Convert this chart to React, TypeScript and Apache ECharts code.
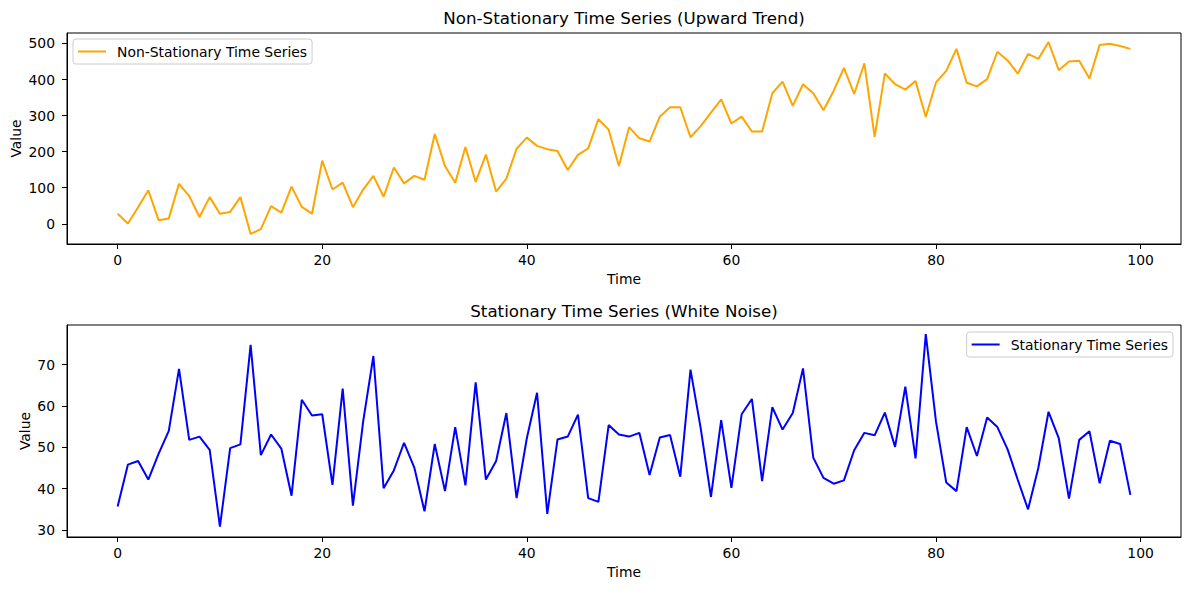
import React, { useEffect, useRef } from "react";
import * as echarts from "echarts";

const timeIndex: number[] = Array.from({ length: 100 }, (_, i) => i);

const trendValues: number[] = [
  28, 1, 46, 93, 10, 15, 111, 77, 19, 74,
  28, 33, 74, -28, -15, 49, 31, 103, 47, 28,
  175, 95, 114, 46, 95, 133, 75, 156, 112, 133,
  122, 249, 160, 114, 213, 116, 192, 89, 125, 208,
  239, 216, 207, 202, 149, 191, 209, 290, 261, 160,
  268, 237, 228, 297, 323, 323, 240, 271, 308, 345,
  278, 297, 256, 256, 362, 394, 327, 387, 362, 315,
  369, 432, 360, 445, 241, 417, 387, 372, 396, 296,
  392, 424, 485, 391, 381, 401, 477, 453, 416, 471,
  457, 504, 426, 450, 452, 403, 496, 499, 493, 485,
];

const noiseValues: number[] = [
  35.7, 45.8, 46.7, 42.2, 48.4, 54.0, 69.0, 51.8, 52.6, 49.4,
  30.8, 49.8, 50.7, 74.8, 48.1, 53.1, 49.7, 38.3, 61.5, 57.7,
  58.0, 40.9, 64.2, 35.9, 56.2, 72.1, 40.1, 44.4, 51.1, 45.1,
  34.5, 50.8, 39.4, 54.9, 40.8, 65.7, 42.2, 46.7, 58.3, 37.7,
  52.2, 63.2, 33.9, 51.9, 52.6, 57.9, 37.7, 36.8, 55.4, 53.1,
  52.6, 53.5, 43.3, 52.4, 53.0, 42.9, 68.8, 54.6, 38.0, 56.6,
  40.2, 58.0, 61.7, 41.8, 59.7, 54.3, 58.3, 69.1, 47.5, 42.6,
  41.2, 42.0, 49.3, 53.5, 52.9, 58.4, 50.1, 64.7, 47.3, 77.4,
  56.2, 41.5, 39.4, 54.9, 47.9, 57.2, 54.9, 49.5, 42.1, 35.0,
  45.0, 58.6, 52.2, 37.6, 51.8, 53.9, 41.3, 51.6, 50.8, 38.5,
];

const xTicks: number[] = [0, 20, 40, 60, 80, 100];
const trendTicks: number[] = [0, 100, 200, 300, 400, 500];
const noiseTicks: number[] = [30, 40, 50, 60, 70];

const trendName = "Non-Stationary Time Series";
const noiseName = "Stationary Time Series";
const trendTitle = "Non-Stationary Time Series (Upward Trend)";
const noiseTitle = "Stationary Time Series (White Noise)";

const FONT = "DejaVu Sans";

function xAxisCfg(gridIndex: number) {
  return {
    type: "value" as const,
    gridIndex,
    min: -4.95,
    max: 103.95,
    name: "Time",
    nameLocation: "middle" as const,
    nameGap: 28,
    nameMoveOverlap: false,
    nameTextStyle: { color: "#000", fontSize: 13.9, fontFamily: FONT },
    axisLine: { show: true, onZero: false, lineStyle: { color: "#000", width: 1 } },
    axisTick: { show: true, length: 5, customValues: xTicks, lineStyle: { color: "#000", width: 1 } },
    axisLabel: { customValues: xTicks, margin: 9, color: "#000", fontSize: 13.9, fontFamily: FONT },
    splitLine: { show: false },
  };
}

function yAxisCfg(gridIndex: number, min: number, max: number, ticks: number[], gap: number) {
  return {
    type: "value" as const,
    gridIndex,
    min,
    max,
    name: "Value",
    nameLocation: "middle" as const,
    nameGap: gap,
    nameMoveOverlap: false,
    nameTextStyle: { color: "#000", fontSize: 13.9, fontFamily: FONT },
    axisLine: { show: true, onZero: false, lineStyle: { color: "#000", width: 1 } },
    axisTick: { show: true, length: 5, customValues: ticks, lineStyle: { color: "#000", width: 1 } },
    axisLabel: { customValues: ticks, margin: 12, color: "#000", fontSize: 13.9, fontFamily: FONT },
    splitLine: { show: false },
  };
}

function legendCfg(name: string, pos: Record<string, number>) {
  return {
    data: [{ name, icon: "rect" }],
    ...pos,
    orient: "horizontal" as const,
    itemWidth: 28,
    itemHeight: 2,
    padding: [5, 5, 5, 5],
    backgroundColor: "rgba(255,255,255,0.8)",
    borderColor: "#cccccc",
    borderWidth: 1,
    borderRadius: 3,
    textStyle: { color: "#000", fontSize: 13.9, fontFamily: FONT, padding: [0, 0, 0, 6], lineHeight: 15 },
  };
}

export default function App() {
  const ref = useRef<HTMLDivElement>(null);

  useEffect(() => {
    if (!ref.current) return;
    const chart = echarts.init(ref.current, undefined, { renderer: "svg" });
    const option = {
      animation: false,
      backgroundColor: "#ffffff",
      textStyle: { fontFamily: FONT },
      graphic: [
        {
          type: "text",
          x: 624,
          y: 18,
          style: {
            text: trendTitle,
            textAlign: "center",
            textVerticalAlign: "middle",
            fontSize: 16.7,
            fontFamily: FONT,
            fill: "#000",
          },
        },
        {
          type: "text",
          x: 624,
          y: 311,
          style: {
            text: noiseTitle,
            textAlign: "center",
            textVerticalAlign: "middle",
            fontSize: 16.7,
            fontFamily: FONT,
            fill: "#000",
          },
        },
      ],
      grid: [
        {
          left: 67, top: 33, width: 1114, height: 211,
          show: true, borderColor: "#000", borderWidth: 1, backgroundColor: "transparent",
          containLabel: false, outerBoundsMode: "none",
        },
        {
          left: 67, top: 325, width: 1114, height: 212,
          show: true, borderColor: "#000", borderWidth: 1, backgroundColor: "transparent",
          containLabel: false, outerBoundsMode: "none",
        },
      ],
      legend: [
        legendCfg(trendName, { left: 73, top: 39 }),
        legendCfg(noiseName, { right: 16, top: 332 }),
      ],
      xAxis: [xAxisCfg(0), xAxisCfg(1)],
      yAxis: [
        yAxisCfg(0, -56, 529, trendTicks, 44),
        yAxisCfg(1, 28.3, 79.6, noiseTicks, 35),
      ],
      series: [
        {
          name: trendName,
          type: "line",
          xAxisIndex: 0,
          yAxisIndex: 0,
          data: timeIndex.map((t, i) => [t, trendValues[i]]),
          showSymbol: false,
          symbol: "none",
          lineStyle: { color: "#ffa500", width: 2 },
          itemStyle: { color: "#ffa500" },
        },
        {
          name: noiseName,
          type: "line",
          xAxisIndex: 1,
          yAxisIndex: 1,
          data: timeIndex.map((t, i) => [t, noiseValues[i]]),
          showSymbol: false,
          symbol: "none",
          lineStyle: { color: "#0000ff", width: 2 },
          itemStyle: { color: "#0000ff" },
        },
      ],
    };
    chart.setOption(option as any);
    return () => chart.dispose();
  }, []);

  return (
    <div
      ref={ref}
      style={{ position: "fixed", left: 0, top: 0, width: 1189, height: 590 }}
    />
  );
}
